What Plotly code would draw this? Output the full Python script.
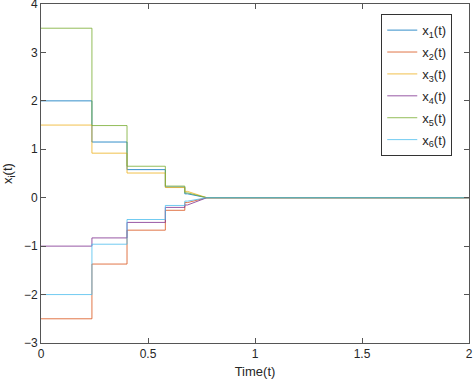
import plotly.graph_objects as go

# switching instants (s) and the value held on each interval
switch_t = [0.0, 0.238, 0.402, 0.581, 0.672]
hold_end_t = 0.685
converge_t = 0.775
end_t = 2.0

x1 = [2.0, 1.15, 0.58, 0.22, 0.08]
x2 = [-2.5, -1.37, -0.67, -0.26, -0.10]
x3 = [1.5, 0.92, 0.51, 0.21, 0.13]
x4 = [-1.0, -0.83, -0.51, -0.20, -0.15]
x5 = [3.5, 1.49, 0.65, 0.24, 0.10]
x6 = [-2.0, -0.96, -0.45, -0.16, -0.07]

names = ["x<sub>1</sub>(t)", "x<sub>2</sub>(t)", "x<sub>3</sub>(t)",
         "x<sub>4</sub>(t)", "x<sub>5</sub>(t)", "x<sub>6</sub>(t)"]
series = [x1, x2, x3, x4, x5, x6]
colors = ["#0072BD", "#D95319", "#EDB120", "#7E2F8E", "#77AC30", "#4DBEEE"]


def build(vals):
    ts, ys = [], []
    n = len(switch_t)
    for i in range(n):
        t0 = switch_t[i]
        t1 = switch_t[i + 1] if i + 1 < n else hold_end_t
        ts += [t0, t1]
        ys += [vals[i], vals[i]]
    ts += [converge_t, end_t]
    ys += [0.0, 0.0]
    return ts, ys


fig = go.Figure()
for k, (name, vals, c) in enumerate(zip(names, series, colors)):
    ts, ys = build(vals)
    fig.add_trace(go.Scatter(x=ts, y=ys, mode="lines", name=name,
                             legendgroup=f"g{k}",
                             line=dict(color=c, width=0.8)))

axis_common = dict(showline=True, linecolor="#555555", linewidth=1,
                   mirror="ticks", ticks="inside", ticklen=5,
                   tickcolor="#555555", showgrid=False, zeroline=False,
                   automargin=False, ticklabeloverflow="allow",
                   tickfont=dict(size=12, color="#262626"))

fig.update_layout(
    width=474, height=384,
    margin=dict(l=41, r=5, t=4, b=41, autoexpand=False),
    paper_bgcolor="white", plot_bgcolor="white",
    font=dict(family="Liberation Sans, Arial, sans-serif", color="#262626"),
    xaxis=dict(range=[0, 2], tickvals=[0, 0.5, 1, 1.5, 2],
               ticktext=["0", "0.5", "1", "1.5", "2"],
               title=dict(text="Time(t)", font=dict(size=13), standoff=6),
               **axis_common),
    yaxis=dict(range=[-3, 4], tickvals=list(range(-3, 5)),
               title=dict(text="x<sub>i</sub>(t)", font=dict(size=13), standoff=8),
               **axis_common),
    legend=dict(x=0.795, y=0.97, xanchor="left", yanchor="top",
                bgcolor="white", bordercolor="#333333", borderwidth=1,
                font=dict(size=13), tracegroupgap=2),
    showlegend=True,
)

fig.write_html("out.html",
               config={"displayModeBar": False},
               post_script="document.body.style.margin='0';"
                           "document.body.style.overflow='hidden';")
